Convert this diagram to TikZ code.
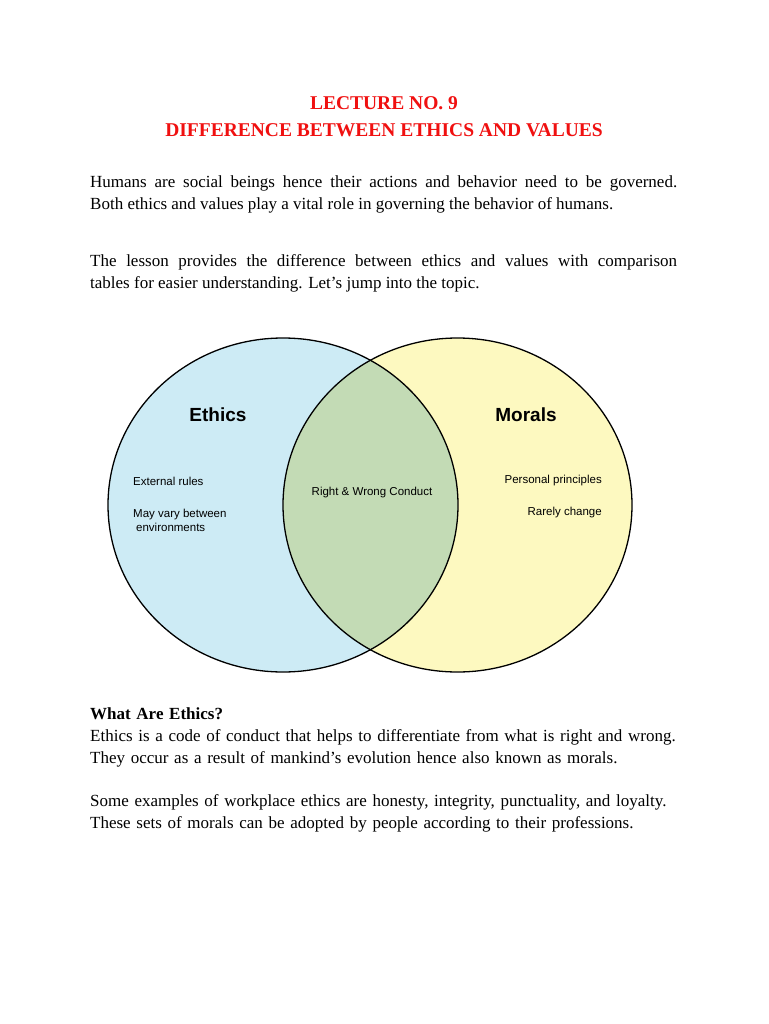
\documentclass[tikz,border=0pt]{standalone}
\usepackage{fontspec}
\setmainfont{Liberation Serif}
\newfontfamily\arial{Liberation Sans}
\definecolor{ethblue}{HTML}{CDEBF5}
\definecolor{morylw}{HTML}{FDF9C0}
\definecolor{ovgreen}{HTML}{C3DBB5}
\definecolor{ttlred}{HTML}{F01010}
\begin{document}
\begin{tikzpicture}[x=1pt,y=-1pt,
  body/.style={anchor=north west,inner sep=0pt,text width=587pt,align=justify,font=\fontsize{17}{22}\selectfont},
  small/.style={inner sep=0pt,font=\arial\fontsize{11.5}{14}\selectfont},
  head/.style={inner sep=0pt,font=\arial\bfseries\fontsize{19}{22}\selectfont}]
\useasboundingbox[fill=white] (0,0) rectangle (768,1024);
\node[inner sep=0pt,text=ttlred,font=\bfseries\fontsize{19.5}{27}\selectfont,align=center] (title) at (384,117) {LECTURE NO. 9\\DIFFERENCE BETWEEN ETHICS AND VALUES};
\node[body] (p1) at (90,176) {Humans are social beings hence their actions and behavior need to be governed.\linebreak Both ethics and values play a vital role in governing the behavior of humans.};
\node[body] (p2) at (90,254) {The lesson provides the difference between ethics and values with comparison\linebreak tables for easier understanding. Let’s jump into the topic.};
% Venn
\fill[ethblue] (283,505) ellipse [x radius=175,y radius=167];
\fill[morylw] (457.5,505) ellipse [x radius=174.5,y radius=167];
\begin{scope}
\clip (283,505) ellipse [x radius=175,y radius=167];
\fill[ovgreen] (457.5,505) ellipse [x radius=174.5,y radius=167];
\end{scope}
\draw[line width=1.3pt] (283,505) ellipse [x radius=175,y radius=167];
\draw[line width=1.3pt] (457.5,505) ellipse [x radius=174.5,y radius=167];
\node[head] (eth) at (218,415) {Ethics};
\node[head] (mor) at (526,415) {Morals};
\node[small,anchor=west] (ext) at (133,481) {External rules};
\node[small,anchor=north west,align=left] (may) at (133,509) {May vary between\\\hspace*{3pt}environments};
\node[small] (rw) at (372,493) {Right \& Wrong Conduct};
\node[small,anchor=east] (pp) at (602,481) {Personal principles};
\node[small,anchor=east] (rc) at (602,513) {Rarely change};
\node[body,align=left] (p3) at (90,707) {\textbf{What Are Ethics?}\\Ethics is a code of conduct that helps to differentiate from what is right and wrong.\\They occur as a result of mankind’s evolution hence also known as morals.};
\node[body,align=left] (p4) at (90,794) {Some examples of workplace ethics are honesty, integrity, punctuality, and loyalty.\\These sets of morals can be adopted by people according to their professions.};
\end{tikzpicture}
\end{document}
